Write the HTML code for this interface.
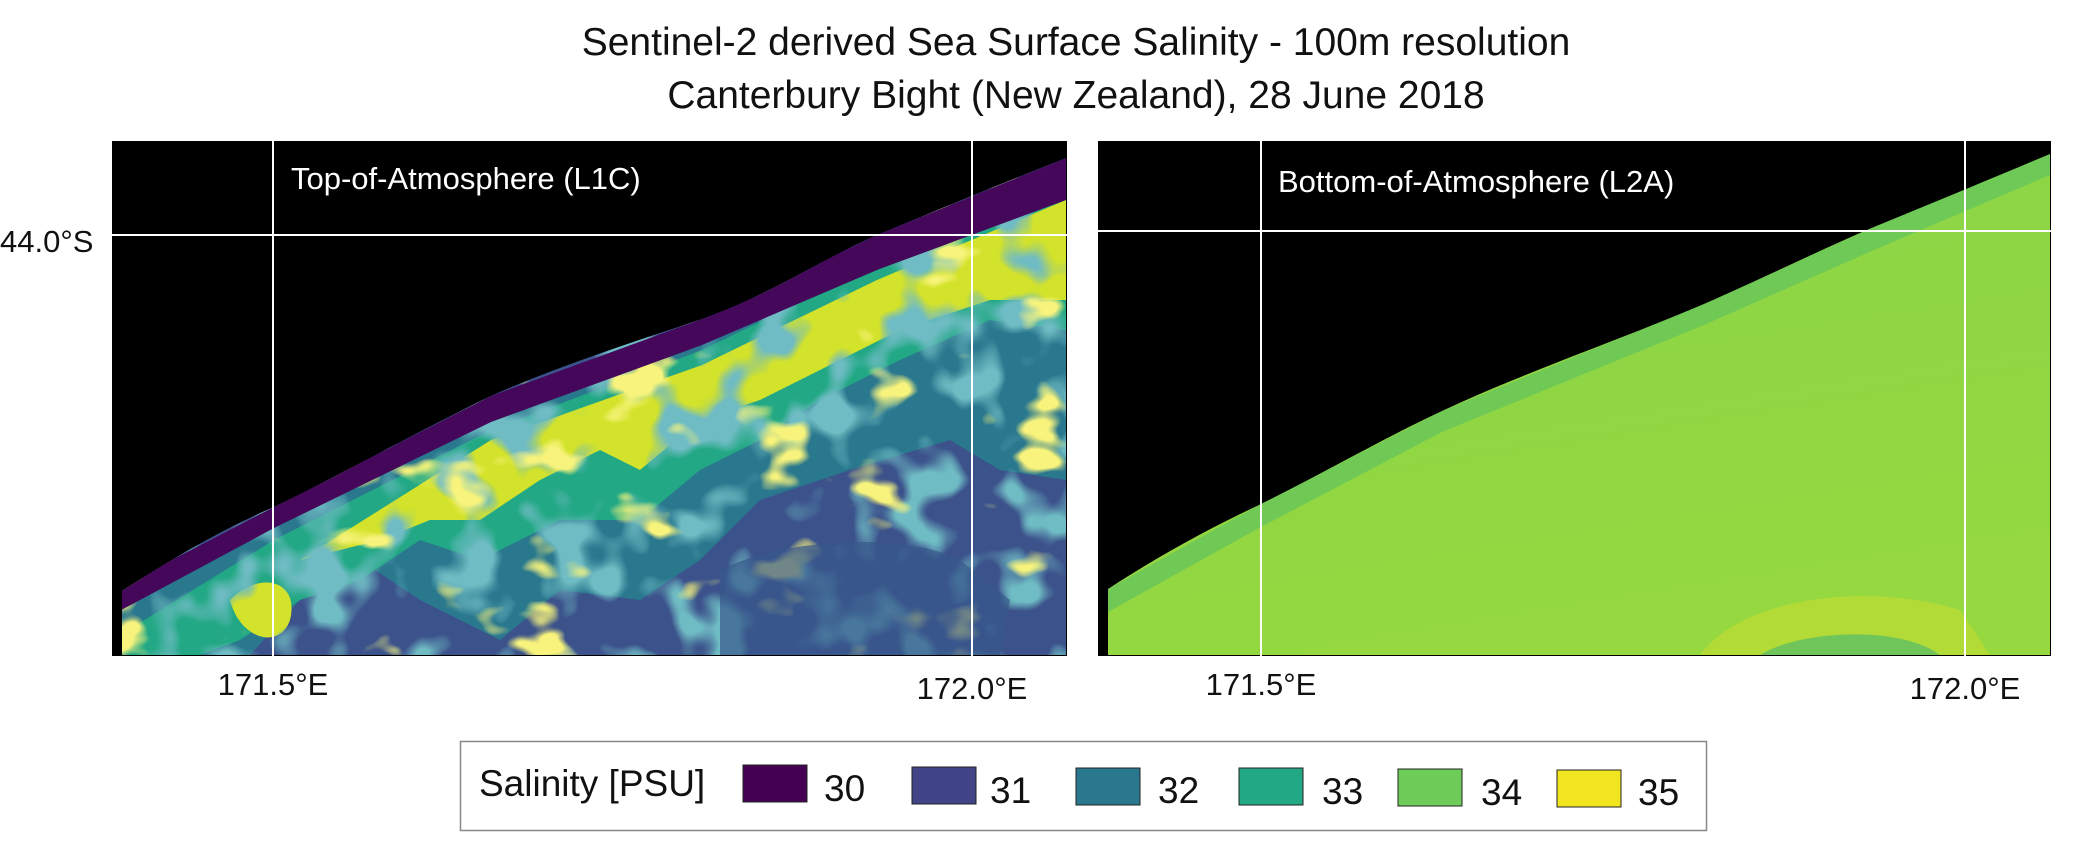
<!DOCTYPE html>
<html><head><meta charset="utf-8"><style>
html,body{margin:0;padding:0;background:#fff;width:2075px;height:851px;overflow:hidden}
text{font-family:"Liberation Sans",sans-serif}
</style></head><body>
<svg width="2075" height="851" viewBox="0 0 2075 851" xmlns="http://www.w3.org/2000/svg">
<defs>
<filter id="n1" x="0" y="0" width="100%" height="100%">
<feTurbulence type="fractalNoise" baseFrequency="0.012 0.02" numOctaves="3" seed="4" result="t"/>
<feColorMatrix in="t" type="matrix" values="0 0 0 0 0.93  0 0 0 0 0.9  0 0 0 0 0.2  0 0 0 9 -5.6"/>
</filter>
<filter id="n2" x="0" y="0" width="100%" height="100%">
<feTurbulence type="fractalNoise" baseFrequency="0.02" numOctaves="2" seed="9" result="t"/>
<feColorMatrix in="t" type="matrix" values="0 0 0 0 0.16  0 0 0 0 0.5  0 0 0 0 0.55  0 0 0 6 -3.0"/>
</filter>
<clipPath id="c1"><path d="M122,655 L122,591 C170,560 220,530 274,507 C350,470 420,430 491,396 C560,365 640,340 702,319 C770,295 820,260 877,235 C950,205 1010,180 1066,158 L1066,655 Z"/></clipPath>
<clipPath id="c2"><path d="M1108,655 L1108,589 C1160,555 1210,528 1259,505 C1320,475 1380,440 1442,411 C1530,370 1620,340 1704,304 C1770,275 1820,250 1874,227 C1940,200 2000,175 2050,154 L2050,655 Z"/></clipPath>
<linearGradient id="g2" x1="0" y1="0" x2="0.3" y2="1"><stop offset="0" stop-color="#5cc16a"/><stop offset="0.25" stop-color="#8cd546"/><stop offset="1" stop-color="#95d840"/></linearGradient>
</defs>
<rect width="2075" height="851" fill="#fff"/>
<text x="1076" y="55" font-size="39" text-anchor="middle" fill="#111">Sentinel-2 derived Sea Surface Salinity - 100m resolution</text>
<text x="1076" y="108" font-size="39" text-anchor="middle" fill="#111">Canterbury Bight (New Zealand), 28 June 2018</text>

<!-- Left panel -->
<rect x="112" y="141" width="955" height="515" fill="#000"/>
<g clip-path="url(#c1)">
<rect x="112" y="141" width="955" height="515" fill="#3b528b"/>
<path d="M112,655 L112,600 L274,520 L491,410 L702,335 L877,255 L1066,175 L1066,480 L1000,470 L950,440 L850,470 L760,500 L700,560 L640,600 L560,590 L500,640 L420,600 L360,560 L300,600 L250,655 Z" fill="#2a788e"/>
<path d="M112,640 L274,540 L491,430 L702,350 L877,265 L1066,185 L1066,330 L990,320 L900,360 L820,400 L760,440 L700,470 L640,520 L560,520 L480,560 L420,540 L360,580 L300,600 L240,640 L200,655 L112,655 Z" fill="#22a884"/>
<path d="M300,560 L491,440 L702,365 L877,280 L1066,200 L1066,300 L990,300 L900,330 L820,370 L760,400 L700,420 L640,470 L600,450 L540,480 L480,520 L430,520 L380,540 Z" fill="#d3e22a"/>
<path d="M230,600 C260,570 300,580 290,620 C280,650 240,640 230,600 Z" fill="#d3e22a"/>
<rect x="112" y="141" width="955" height="515" filter="url(#n2)"/>
<rect x="112" y="141" width="955" height="515" filter="url(#n1)"/>
<path d="M720,570 C780,540 900,530 960,560 L1010,600 L1000,655 L720,655 Z" fill="#38598b" opacity="0.7"/>
<path d="M112,591 L274,507 L491,396 L702,319 L877,235 L1066,158 L1066,200 L877,270 L702,345 L491,422 L274,528 L112,615Z" fill="#45075a"/>
</g>
<line x1="112" y1="235" x2="1067" y2="235" stroke="#fff" stroke-width="2"/>
<line x1="273" y1="141" x2="273" y2="656" stroke="#fff" stroke-width="2"/>
<line x1="972" y1="141" x2="972" y2="656" stroke="#fff" stroke-width="2"/>
<text x="291" y="189" font-size="31" fill="#fff">Top-of-Atmosphere (L1C)</text>

<!-- Right panel -->
<rect x="1098" y="141" width="953" height="515" fill="#000"/>
<g clip-path="url(#c2)">
<rect x="1098" y="141" width="953" height="515" fill="url(#g2)"/>
<path d="M1108,589 L1259,505 L1442,411 L1704,304 L1874,227 L2050,154 L2050,175 L1874,250 L1704,325 L1442,432 L1259,528 L1108,612Z" fill="#68c65a" opacity="0.8"/>
<path d="M1700,655 C1740,600 1860,580 1960,610 L1990,655Z" fill="#b9dc35" opacity="0.8"/>
<path d="M1760,655 C1800,630 1900,625 1940,655Z" fill="#52bb6a" opacity="0.7"/>
</g>
<line x1="1098" y1="231" x2="2051" y2="231" stroke="#fff" stroke-width="2"/>
<line x1="1261" y1="141" x2="1261" y2="656" stroke="#fff" stroke-width="2"/>
<line x1="1965" y1="141" x2="1965" y2="656" stroke="#fff" stroke-width="2"/>
<text x="1278" y="192" font-size="31" fill="#fff">Bottom-of-Atmosphere (L2A)</text>

<!-- axis labels -->
<text x="0" y="252" font-size="31" fill="#111">44.0°S</text>
<text x="273" y="695" font-size="31" fill="#111" text-anchor="middle">171.5°E</text>
<text x="972" y="699" font-size="31" fill="#111" text-anchor="middle">172.0°E</text>
<text x="1261" y="695" font-size="31" fill="#111" text-anchor="middle">171.5°E</text>
<text x="1965" y="699" font-size="31" fill="#111" text-anchor="middle">172.0°E</text>

<!-- legend -->
<rect x="460.5" y="741.5" width="1246" height="89" fill="#fff" stroke="#888" stroke-width="1.5"/>
<text x="479" y="796" font-size="37" fill="#111">Salinity [PSU]</text>
<rect x="743" y="765" width="64" height="37" fill="#440154" stroke="#222"/>
<text x="824" y="801" font-size="37" fill="#111">30</text>
<rect x="912" y="767" width="64" height="37" fill="#414487" stroke="#222"/>
<text x="990" y="803" font-size="37" fill="#111">31</text>
<rect x="1076" y="768" width="64" height="37" fill="#2a788e" stroke="#222"/>
<text x="1158" y="803" font-size="37" fill="#111">32</text>
<rect x="1239" y="768" width="64" height="37" fill="#22a884" stroke="#222"/>
<text x="1322" y="804" font-size="37" fill="#111">33</text>
<rect x="1398" y="769" width="64" height="37" fill="#6ecd58" stroke="#222"/>
<text x="1481" y="805" font-size="37" fill="#111">34</text>
<rect x="1557" y="770" width="64" height="37" fill="#f0e51f" stroke="#222"/>
<text x="1638" y="805" font-size="37" fill="#111">35</text>
</svg>
</body></html>
